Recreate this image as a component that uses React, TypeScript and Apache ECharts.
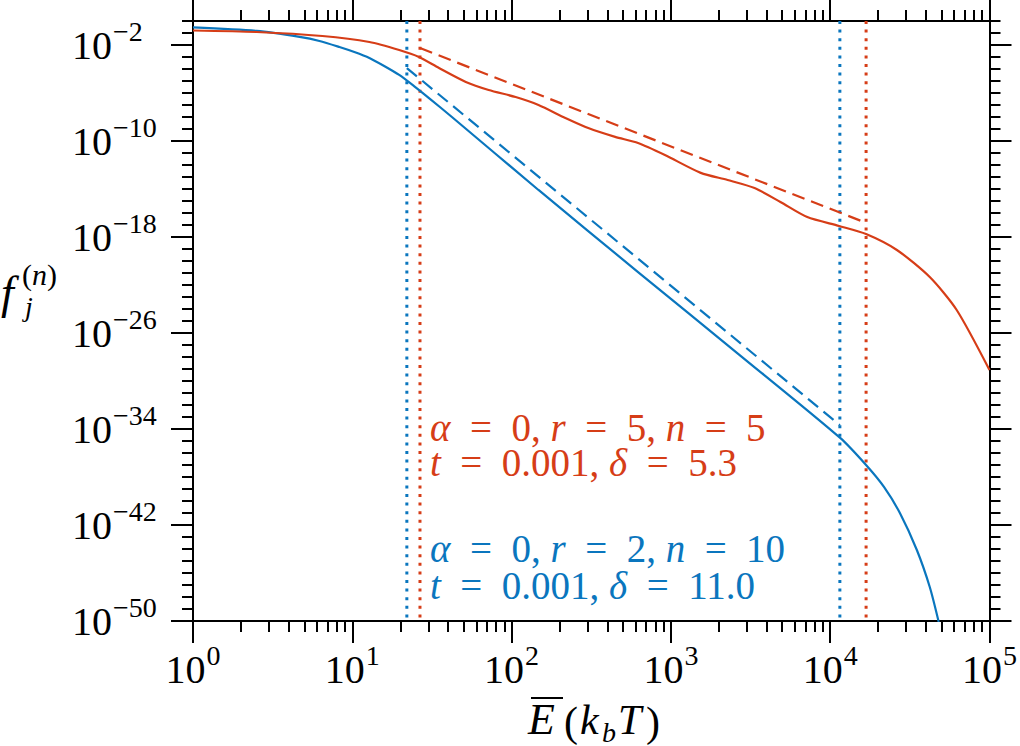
import React, { useEffect, useRef } from 'react';
import * as echarts from 'echarts';

const RED = '#d63d17';
const BLUE = '#0a76be';
const FAMILY = '"Liberation Serif", serif';

// r = 2, n = 10 : mean energy (k_bT) and f_j^(n)
const blueE = [1, 2.51, 4.67, 6.22, 8.3, 10.3, 12.8, 15.85, 19.7, 24.4, 30.3, 42.2, 147.5, 622, 2738, 11550, 16790, 21750, 27380, 34990, 42170, 47990];
const blueF = [0.29, 0.148, 0.047, 0.0216, 6.8e-3, 2.6e-3, 8.3e-4, 1.78e-4, 3.2e-5, 3.8e-6, 3.8e-7, 1e-8, 8.3e-15, 1.2e-21, 1.26e-28, 1.8e-35, 1e-37, 1.5e-39, 1e-41, 8.3e-45, 6.8e-48, 8.3e-51];

// r = 5, n = 5
const redE = [1, 2.51, 6.49, 12.8, 19.7, 26.2, 35.0, 51.6, 71.8, 106, 147.5, 217.6, 302.9, 446.7, 622, 917, 1540, 2270, 3350, 4870, 7180, 11380, 16790, 26220, 42170, 62230, 100000];
const redF = [0.162, 0.121, 0.056, 0.0178, 3.8e-3, 1.0e-3, 1.2e-4, 8.3e-6, 1.78e-6, 4.6e-7, 1.0e-7, 8.3e-9, 1.2e-9, 2.2e-10, 6.8e-11, 6.8e-12, 2.2e-13, 5.6e-14, 1.2e-14, 8.3e-16, 4.6e-17, 8.3e-18, 1.78e-18, 8.3e-20, 4.6e-22, 8.3e-25, 8.3e-30];

// power-law asymptotes E^-delta
const blueAsymE = [22, 11500];
const blueAsymF = [1.2e-4, 2.1e-34];
const redAsymE = [26.6, 16800];
const redAsymF = [5.6e-3, 1.5e-17];

// validity window edges
const blueEdges = [22, 11500];
const redEdges = [26.6, 16800];

// axis ticks (decades)
const xMajor = [0, 1, 2, 3, 4, 5];
const yMajor = [-50, -42, -34, -26, -18, -10, -2];
const yMin = -50;
const yMax = 0;

const xMinor: number[] = [];
for (let d = 0; d < 5; d++) for (let k = 2; k <= 9; k++) xMinor.push(d + Math.log10(k));
const yMinor: number[] = [];
for (let v = yMin; v <= yMax; v++) yMinor.push(v);

const toLog = (xs: number[], ys: number[]) => xs.map((x, i) => [Math.log10(x), Math.log10(ys[i])]);
const vline = (e: number) => [[Math.log10(e), yMax], [Math.log10(e), yMin]];

const richLabel = {
  b: { fontSize: 40, fontFamily: FAMILY, color: '#000', verticalAlign: 'bottom', lineHeight: 40 },
  s: { fontSize: 28, fontFamily: FAMILY, color: '#000', verticalAlign: 'bottom', lineHeight: 28, padding: [0, 0, 20, 1] },
};

const black = { color: '#000', width: 2 };

function xAxes() {
  const base = { type: 'value', min: 0, max: 5, interval: 1, gridIndex: 0, splitLine: { show: false } };
  return [
    {
      ...base, position: 'bottom',
      axisLine: { show: true, onZero: false, lineStyle: black },
      axisTick: { show: true, inside: false, length: 22, customValues: xMajor, lineStyle: black },
      axisLabel: {
        show: true, margin: 28, customValues: xMajor,
        formatter: (v: number) => `{b|10}{s|${Math.round(v)}}`, rich: richLabel,
      },
    },
    {
      ...base, position: 'bottom',
      axisLine: { show: false, onZero: false },
      axisTick: { show: true, inside: false, length: 11, customValues: xMinor, lineStyle: black },
      axisLabel: { show: false },
    },
    {
      ...base, position: 'top',
      axisLine: { show: true, onZero: false, lineStyle: black },
      axisTick: { show: true, inside: false, length: 22, customValues: xMajor, lineStyle: black },
      axisLabel: { show: false },
    },
    {
      ...base, position: 'top',
      axisLine: { show: false, onZero: false },
      axisTick: { show: true, inside: false, length: 11, customValues: xMinor, lineStyle: black },
      axisLabel: { show: false },
    },
  ];
}

function yAxes() {
  const base = { type: 'value', min: yMin, max: yMax, interval: 1, gridIndex: 0, splitLine: { show: false } };
  return [
    {
      ...base, position: 'left',
      axisLine: { show: true, onZero: false, lineStyle: black },
      axisTick: { show: true, inside: false, length: 22, customValues: yMajor, lineStyle: black },
      axisLabel: {
        show: true, margin: 121, align: 'left', customValues: yMajor,
        formatter: (v: number) => `{b|10}{s|\u2212${Math.abs(Math.round(v))}}`, rich: richLabel,
      },
    },
    {
      ...base, position: 'left',
      axisLine: { show: false, onZero: false },
      axisTick: { show: true, inside: false, length: 11, customValues: yMinor, lineStyle: black },
      axisLabel: { show: false },
    },
    {
      ...base, position: 'right',
      axisLine: { show: true, onZero: false, lineStyle: black },
      axisTick: { show: true, inside: false, length: 22, customValues: yMajor, lineStyle: black },
      axisLabel: { show: false },
    },
    {
      ...base, position: 'right',
      axisLine: { show: false, onZero: false },
      axisTick: { show: true, inside: false, length: 11, customValues: yMinor, lineStyle: black },
      axisLabel: { show: false },
    },
  ];
}

function lineSeries(data: number[][], color: string, type: any, width: number, smooth = false) {
  return {
    type: 'line', data, xAxisIndex: 0, yAxisIndex: 0,
    showSymbol: false, symbol: 'none', smooth: smooth ? 0.25 : false,
    clip: true, silent: true,
    lineStyle: { color, width, type, cap: 'butt' },
  };
}

const DOT = [3, 5.6];
const DASH = [13, 7];

// text block: {i|...} italic symbols, {u|...} upright characters
function mathText(left: number, top: number, text: string, color: string, size: number, lineHeight: number) {
  const tok = (italic: boolean) => ({
    fontSize: size, fontFamily: FAMILY, fontStyle: italic ? 'italic' : 'normal',
    fontWeight: 'normal', color, lineHeight,
  });
  return {
    text, left, top, padding: 0, itemGap: 0,
    textStyle: { ...tok(false), rich: { i: tok(true), u: tok(false) } },
  };
}

const EQ = '\u2002=\u2002';

export default function App() {
  const ref = useRef<HTMLDivElement>(null);
  useEffect(() => {
    if (!ref.current) return;
    const chart = echarts.init(ref.current, null, { renderer: 'svg' });
    chart.setOption({
      animation: false,
      backgroundColor: '#fff',
      grid: { left: 193, top: 21, width: 800, height: 600, containLabel: false },
      xAxis: xAxes(),
      yAxis: yAxes(),
      series: [
        ...blueEdges.map((e) => lineSeries(vline(e), BLUE, DOT, 3)),
        ...redEdges.map((e) => lineSeries(vline(e), RED, DOT, 3)),
        lineSeries(toLog(blueAsymE, blueAsymF), BLUE, DASH, 2.2),
        lineSeries(toLog(redAsymE, redAsymF), RED, DASH, 2.2),
        lineSeries(toLog(blueE, blueF), BLUE, 'solid', 2.2, true),
        lineSeries(toLog(redE, redF), RED, 'solid', 2.2, true),
      ],
      title: [
        mathText(430, 411, `{i|\u03b1}{u|${EQ}0, }{i|r}{u|${EQ}5, }{i|n}{u|${EQ}5}`, RED, 39, 33),
        mathText(430, 446, `{i|t}{u|${EQ}0.001, }{i|\u03b4}{u|${EQ}5.3}`, RED, 39, 33),
        mathText(430, 532, `{i|\u03b1}{u|${EQ}0, }{i|r}{u|${EQ}2, }{i|n}{u|${EQ}10}`, BLUE, 39, 33),
        mathText(430, 569, `{i|t}{u|${EQ}0.001, }{i|\u03b4}{u|${EQ}11.0}`, BLUE, 39, 33),
        // y-axis title f_j^(n)
        mathText(1, 272, '{i|f}', '#000', 46, 40),
        mathText(22, 261, '{u|(}{i|n}{u|)}', '#000', 30, 26),
        mathText(25, 295, '{i|j}', '#000', 28, 22),
        // x-axis title E-bar (k_b T)
        mathText(528, 700, '{i|E}', '#000', 44, 38),
        mathText(564, 702, '{u|(}', '#000', 42, 40),
        mathText(580, 701, '{i|k}', '#000', 42, 38),
        mathText(602, 721, '{i|b}', '#000', 28, 22),
        mathText(618, 701, '{i|T}', '#000', 42, 38),
        mathText(646, 702, '{u|)}', '#000', 42, 40),
      ],
      graphic: [
        { type: 'line', shape: { x1: 531, y1: 698, x2: 563, y2: 698 }, style: { stroke: '#000', lineWidth: 2 } },
      ],
    });
    return () => chart.dispose();
  }, []);
  return <div ref={ref} style={{ position: 'fixed', left: 0, top: 0, width: 1020, height: 746 }} />;
}
